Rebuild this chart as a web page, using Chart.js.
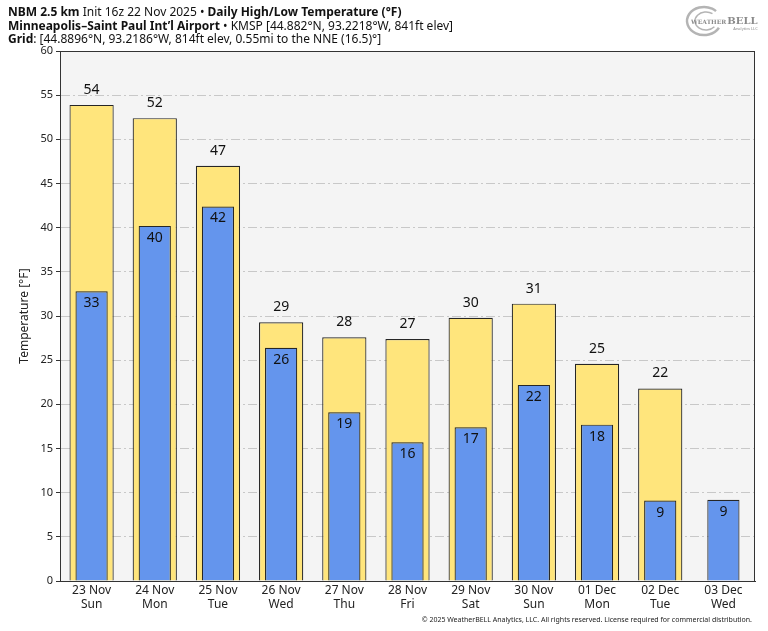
<!DOCTYPE html>
<html>
<head>
<meta charset="utf-8">
<script src="https://cdn.jsdelivr.net/npm/chart.js@4"></script>
<style>
  html, body { margin: 0; padding: 0; background: #fff; }
  #wrap { width: 768px; height: 631px; position: relative; }
</style>
</head>
<body>
<div id="wrap"><canvas id="tempChart" width="768" height="631"></canvas></div>
<script>
// Daily high / low temperatures (°F)
const dayLabels = ['23 Nov', '24 Nov', '25 Nov', '26 Nov', '27 Nov', '28 Nov', '29 Nov', '30 Nov', '01 Dec', '02 Dec', '03 Dec'];
const weekdays = ['Sun', 'Mon', 'Tue', 'Wed', 'Thu', 'Fri', 'Sat', 'Sun', 'Mon', 'Tue', 'Wed'];
const highTemps = [53.9, 52.4, 47.0, 29.3, 27.6, 27.4, 29.8, 31.4, 24.6, 21.8, null];
const lowTemps = [32.8, 40.2, 42.4, 26.4, 19.1, 15.7, 17.4, 22.2, 17.7, 9.1, 9.2];
const yTicks = [0, 5, 10, 15, 20, 25, 30, 35, 40, 45, 50, 55, 60];

const FONT = '"Noto Sans", "Open Sans", sans-serif';

// header, footer, plot frame and value labels
const decorPlugin = {
  id: 'decor',
  beforeDraw(chart) {
    const { ctx, chartArea: a } = chart;
    ctx.save();
    ctx.fillStyle = '#f4f4f4';
    ctx.fillRect(a.left, a.top, a.right - a.left, a.bottom - a.top);
    ctx.restore();
  },
  afterDraw(chart) {
    const { ctx, chartArea: a } = chart;
    ctx.save();
    // frame
    ctx.strokeStyle = '#333';
    ctx.lineWidth = 1;
    ctx.strokeRect(a.left + 0.5, a.top + 0.5, a.right - a.left - 1, a.bottom - a.top);

    // header lines with bold/normal runs
    const runs = [
      [[true, 'NBM 2.5 km'], [false, ' Init 16z 22 Nov 2025 \u2022 '], [true, 'Daily High/Low Temperature (\u00b0F)']],
      [[true, 'Minneapolis\u2013Saint Paul Int\u2019l Airport'], [false, ' \u2022 KMSP [44.882\u00b0N, 93.2218\u00b0W, 841ft elev]']],
      [[true, 'Grid'], [false, ': [44.8896\u00b0N, 93.2186\u00b0W, 814ft elev, 0.55mi to the NNE (16.5)\u00b0]']]
    ];
    ctx.fillStyle = '#111';
    ctx.textBaseline = 'alphabetic';
    ctx.textAlign = 'left';
    runs.forEach((line, i) => {
      let x = 8;
      const y = 16 + i * 13.5;
      line.forEach(([bold, txt]) => {
        ctx.font = (bold ? 'bold ' : '') + '12px ' + FONT;
        ctx.fillText(txt, x, y);
        x += ctx.measureText(txt).width;
      });
    });

    // logo (rough swirl + wordmark)
    ctx.strokeStyle = '#b4b4b4';
    ctx.lineWidth = 2.5;
    ctx.beginPath();
    ctx.ellipse(704, 21, 17, 14, 0, 0.5, Math.PI * 1.75);
    ctx.stroke();
    ctx.lineWidth = 1.5;
    ctx.beginPath();
    ctx.ellipse(706, 21, 11, 9, 0, 0.7, Math.PI * 1.7);
    ctx.stroke();
    ctx.fillStyle = '#8a8a8a';
    ctx.font = 'bold 6px "DejaVu Serif", serif';
    ctx.fillText('WEATHER', 691, 24);
    const wx = 691 + ctx.measureText('WEATHER').width + 1;
    ctx.font = 'bold 10px "DejaVu Serif", serif';
    ctx.fillText('BELL', wx, 24);
    ctx.font = '4px ' + FONT;
    ctx.fillText('Analytics LLC', wx + 6, 30);

    // footer
    ctx.fillStyle = '#222';
    ctx.font = '7px ' + FONT;
    ctx.textAlign = 'right';
    ctx.fillText('\u00a9 2025 WeatherBELL Analytics, LLC. All rights reserved. License required for commercial distribution.', 752, 622);

    // value labels
    ctx.textAlign = 'center';
    ctx.font = '14px ' + FONT;
    ctx.fillStyle = '#111';
    const hiMeta = chart.getDatasetMeta(1);
    const loMeta = chart.getDatasetMeta(0);
    hiMeta.data.forEach((bar, i) => {
      if (highTemps[i] == null) return;
      ctx.textBaseline = 'bottom';
      ctx.fillText(Math.round(highTemps[i]), bar.x, bar.y - 8);
    });
    loMeta.data.forEach((bar, i) => {
      if (lowTemps[i] == null) return;
      ctx.textBaseline = 'top';
      ctx.fillText(Math.round(lowTemps[i]), bar.x, bar.y + 5);
    });
    ctx.restore();
  }
};

new Chart(document.getElementById('tempChart'), {
  type: 'bar',
  data: {
    labels: dayLabels.map((d, i) => [d, weekdays[i]]),
    datasets: [
      {
        label: 'Low',
        data: lowTemps,
        backgroundColor: '#6495ed',
        borderColor: '#262626',
        borderWidth: 1.2,
        grouped: false,
        categoryPercentage: 1,
        barPercentage: 0.51,
        order: 1
      },
      {
        label: 'High',
        data: highTemps,
        backgroundColor: '#ffe57c',
        borderColor: '#262626',
        borderWidth: 1.2,
        grouped: false,
        categoryPercentage: 1,
        barPercentage: 0.7,
        order: 2
      }
    ]
  },
  options: {
    responsive: false,
    animation: false,
    layout: { padding: { top: 51, right: 13, left: 17, bottom: 0 } },
    plugins: {
      legend: { display: false },
      tooltip: { enabled: false }
    },
    scales: {
      x: {
        offset: true,
        grid: { display: false, drawTicks: false },
        border: { color: '#333' },
        ticks: { color: '#222', font: { family: FONT, size: 12, lineHeight: 1.15 }, padding: 3, maxRotation: 0 },
        afterFit(scale) { scale.height = 50; }
      },
      y: {
        min: 0,
        max: 60,
        afterBuildTicks(scale) { scale.ticks = yTicks.map(v => ({ value: v })); },
        grid: { color: '#c8c8c8', drawTicks: true, tickLength: 4, tickColor: '#333' },
        border: { color: '#333', dash: [9, 3, 2, 3] },
        ticks: { color: '#222', font: { family: FONT, size: 11 }, padding: 3 },
        title: { display: true, text: 'Temperature [\u00b0F]', color: '#222', font: { family: FONT, size: 12 }, padding: 0 },
        afterFit(scale) { scale.width = 43; }
      }
    }
  },
  plugins: [decorPlugin]
});
</script>
</body>
</html>
